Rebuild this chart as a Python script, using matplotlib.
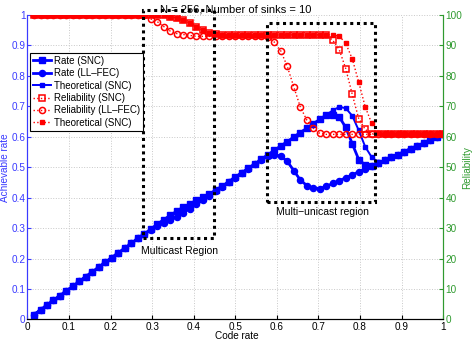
import matplotlib
matplotlib.use("Agg")
import matplotlib.pyplot as plt
from matplotlib.patches import Rectangle

plt.rcParams['font.family'] = ['Liberation Sans', 'DejaVu Sans']

# code rates k/64, k = 1..64
code_rate = [0.0156, 0.0313, 0.0469, 0.0625, 0.0781, 0.0938, 0.1094, 0.125,
             0.1406, 0.1563, 0.1719, 0.1875, 0.2031, 0.2188, 0.2344, 0.25,
             0.2656, 0.2813, 0.2969, 0.3125, 0.3281, 0.3438, 0.3594, 0.375,
             0.3906, 0.4063, 0.4219, 0.4375, 0.4531, 0.4688, 0.4844, 0.5,
             0.5156, 0.5313, 0.5469, 0.5625, 0.5781, 0.5938, 0.6094, 0.625,
             0.6406, 0.6563, 0.6719, 0.6875, 0.7031, 0.7188, 0.7344, 0.75,
             0.7656, 0.7813, 0.7969, 0.8125, 0.8281, 0.8438, 0.8594, 0.875,
             0.8906, 0.9063, 0.9219, 0.9375, 0.9531, 0.9688, 0.9844, 1.0]

low_rate = [0.016, 0.031, 0.047, 0.063, 0.078, 0.094, 0.109, 0.125, 0.141,
            0.156, 0.172, 0.188, 0.203, 0.219, 0.234, 0.25, 0.266, 0.281]
tail_rate = [0.513, 0.523, 0.532, 0.541, 0.551, 0.561, 0.570, 0.579, 0.589,
             0.599, 0.608]

rate_snc = low_rate + [
    0.297, 0.313, 0.328, 0.342, 0.356, 0.369, 0.380, 0.391, 0.401, 0.412,
    0.425, 0.438, 0.453, 0.468, 0.482, 0.497, 0.511, 0.526, 0.541, 0.555,
    0.570, 0.584, 0.599, 0.614, 0.628, 0.643, 0.657, 0.672, 0.673, 0.665,
    0.631, 0.577, 0.525, 0.507, 0.505] + tail_rate

rate_llfec = low_rate + [
    0.293, 0.306, 0.316, 0.326, 0.337, 0.351, 0.364, 0.378, 0.392, 0.407,
    0.421, 0.436, 0.450, 0.465, 0.480, 0.494, 0.509, 0.523, 0.536, 0.541,
    0.537, 0.519, 0.489, 0.458, 0.440, 0.432, 0.430, 0.437, 0.447, 0.456,
    0.465, 0.475, 0.485, 0.494, 0.503] + tail_rate

rate_theory = low_rate + [
    0.297, 0.313, 0.328, 0.342, 0.356, 0.369, 0.380, 0.391, 0.401, 0.412,
    0.425, 0.438, 0.453, 0.468, 0.482, 0.497, 0.511, 0.526, 0.541, 0.555,
    0.570, 0.584, 0.599, 0.614, 0.628, 0.643, 0.657, 0.672, 0.687, 0.698,
    0.694, 0.669, 0.621, 0.567, 0.533, 0.516] + tail_rate[1:]

# reliability in percent
rel_snc = [100] * 21 + [
    99.5, 99.0, 98.4, 97.4, 96.2, 95.0, 94.2, 93.8, 93.5, 93.5,
    93.5, 93.5, 93.5, 93.5, 93.5, 93.5, 93.5, 93.5, 93.5, 93.5,
    93.5, 93.5, 93.5, 93.5, 93.5, 91.7, 88.6, 82.4, 73.9, 65.9,
    62.4, 61.0] + [60.8] * 11

rel_llfec = [100] * 18 + [
    98.7, 97.8, 96.2, 94.7, 93.9, 93.6, 93.3, 93.0, 93.0, 93.0,
    93.0, 93.0, 93.0, 93.0, 93.0, 93.0, 93.0, 93.0, 92.7, 91.1,
    88.2, 83.1, 76.4, 69.8, 65.5, 62.8, 61.1] + [60.8] * 19

rel_theory = [100] * 21 + [
    99.5, 99.0, 98.4, 97.4, 96.2, 95.0, 94.2, 93.8, 93.5, 93.5,
    93.5, 93.5, 93.5, 93.5, 93.5, 93.5, 93.5, 93.5, 93.5, 93.5,
    93.5, 93.5, 93.5, 93.5, 93.5, 93.5, 93.1, 90.7, 85.6, 77.9,
    69.8, 64.4, 61.1] + [60.8] * 10

left_col = '#3a3aff'
right_col = '#2f9a2f'

fig = plt.figure(figsize=(4.74, 3.42), dpi=100)
ax = fig.add_axes([0.058, 0.066, 0.877, 0.890])
ax2 = ax.twinx()

h1, = ax.plot(code_rate, rate_snc, '-s', color='blue', lw=2.0, ms=4.0,
              label='Rate (SNC)')
h2, = ax.plot(code_rate, rate_llfec, '-o', color='blue', lw=2.0, ms=4.4,
              label='Rate (LL\u2013FEC)')
h3, = ax.plot(code_rate, rate_theory, '-s', color='blue', lw=1.4, ms=2.2,
              label='Theoretical (SNC)')

h4, = ax2.plot(code_rate, rel_snc, ':s', color='red', lw=1.0, ms=4.2,
               mfc='none', mew=1.1, label='Reliability (SNC)')
h5, = ax2.plot(code_rate, rel_llfec, ':o', color='red', lw=1.0, ms=4.4,
               mfc='none', mew=1.1, label='Reliability (LL\u2013FEC)')
h6, = ax2.plot(code_rate, rel_theory, ':s', color='red', lw=1.0, ms=2.4,
               label='Theoretical (SNC)')

ax.set_xlim(0, 1)
ax.set_ylim(0, 1)
ax2.set_ylim(0, 100)
ax.set_xticks([i / 10 for i in range(11)])
ax.set_xticklabels(['0', '0.1', '0.2', '0.3', '0.4', '0.5', '0.6', '0.7',
                    '0.8', '0.9', '1'])
ax.set_yticks([i / 10 for i in range(11)])
ax.set_yticklabels(['0', '0.1', '0.2', '0.3', '0.4', '0.5', '0.6', '0.7',
                    '0.8', '0.9', '1'])
ax2.set_yticks(range(0, 101, 10))

ax.grid(True, color='#c8c8c8', linestyle=':', linewidth=0.7)
ax.tick_params(axis='x', direction='in', labelsize=7.2, length=3, pad=1.5)
ax.tick_params(axis='y', direction='in', labelsize=7.2, length=3, pad=1.5,
               colors=left_col)
ax2.tick_params(axis='y', direction='in', labelsize=7.2, length=3, pad=1.5,
                colors=right_col)

for a in (ax, ax2):
    a.spines['top'].set_visible(False)
    a.spines['left'].set_color(left_col)
    a.spines['right'].set_color(right_col)
    a.spines['bottom'].set_color('black')

# axis labels placed in figure coordinates so they stay inside the canvas
fig.text(0.5, 0.017, 'Code rate', fontsize=7.2, ha='center', va='center')
fig.text(0.011, 0.511, 'Achievable rate', fontsize=7.2, color=left_col,
         rotation=90, ha='center', va='center')
fig.text(0.986, 0.511, 'Reliability', fontsize=7.2, color=right_col,
         rotation=90, ha='center', va='center')
ax.set_title('N = 256, Number of sinks = 10', fontsize=8, pad=1.5)

# highlighted regions
ax2.add_patch(Rectangle((0.278, 26.7), 0.170, 74.9, fill=False, ec='black',
                        lw=2.2, ls=(0, (1, 1.2)), clip_on=False, zorder=10))
ax2.add_patch(Rectangle((0.576, 38.5), 0.261, 59.0, fill=False, ec='black',
                        lw=2.2, ls=(0, (1, 1.2)), clip_on=False, zorder=10))
ax.text(0.365, 0.225, 'Multicast Region', fontsize=7.5, ha='center',
        va='center')
ax.text(0.71, 0.353, 'Multi\u2212unicast region', fontsize=7.5, ha='center',
        va='center')

leg = ax2.legend(handles=[h1, h2, h3, h4, h5, h6], loc='upper left',
                 bbox_to_anchor=(0.006, 0.876), fontsize=7, numpoints=1,
                 handlelength=1.9, handletextpad=0.3, borderpad=0.3,
                 labelspacing=0.25, borderaxespad=0, fancybox=False,
                 framealpha=1, edgecolor='black')
leg.get_frame().set_linewidth(0.8)
leg.set_zorder(20)

fig.savefig('out.png', dpi=100)
